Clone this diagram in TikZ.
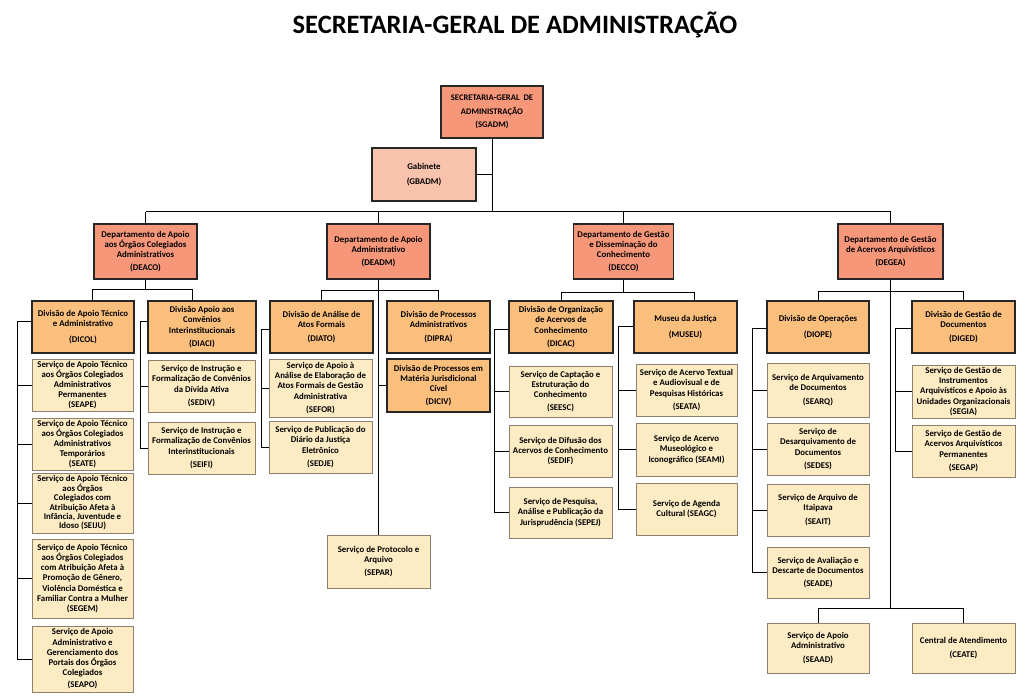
\documentclass[tikz,border=0pt]{standalone}
\usepackage{fontspec}
\setmainfont{Carlito}
\usepackage{xcolor}
\usepackage{tikz}
\usetikzlibrary{calc}

\definecolor{deptfill}{HTML}{F7977A}
\definecolor{gabfill}{HTML}{F9C2AC}
\definecolor{divfill}{HTML}{FABF7C}
\definecolor{servfill}{HTML}{FDEBC4}
\definecolor{servline}{HTML}{8E806C}

\begin{document}
\begin{tikzpicture}[
    x=1pt, y=-1pt,
    unit/.style={align=center, inner xsep=1pt, inner ysep=0.5pt,
                 font=\fontsize{8.8}{10.2}\selectfont\bfseries},
    dept/.style={unit, draw=black!85, line width=1.3pt, fill=deptfill},
    gab/.style={unit, draw=black!85, line width=1.3pt, fill=gabfill},
    divi/.style={unit, draw=black!85, line width=1.3pt, fill=divfill},
    serv/.style={unit, draw=servline, line width=0.9pt, fill=servfill},
    link/.style={line width=0.8pt, black}
]

\useasboundingbox (0,0) rectangle (1025,700);

% -------------------------------------------------
% Title
% -------------------------------------------------

\node[font=\fontsize{26.5}{30}\selectfont\bfseries] (title) at (515,25)
{SECRETARIA-GERAL DE ADMINISTRAÇÃO};

% -------------------------------------------------
% Top level
% -------------------------------------------------

\node[dept, minimum width=102, minimum height=52,
      font=\fontsize{8.6}{13.5}\selectfont\bfseries] (sgadm) at (492,112)
{SECRETARIA-GERAL~~DE\\ADMINISTRAÇÃO\\(SGADM)};

\node[gab, minimum width=104, minimum height=53,
      font=\fontsize{8.8}{15}\selectfont\bfseries] (gbadm) at (424,174.5)
{Gabinete\\(GBADM)};

% -------------------------------------------------
% Departments
% -------------------------------------------------

\node[dept, minimum width=103, minimum height=55] (deaco) at (145.5,251.5)
{Departamento de Apoio\\aos Órgãos Colegiados\\Administrativos\\[3pt](DEACO)};

\node[dept, minimum width=103, minimum height=55] (deadm) at (378.5,251.5)
{Departamento de Apoio\\Administrativo\\[3pt](DEADM)};

\node[dept, minimum width=100, minimum height=55] (decco) at (623.5,251.5)
{Departamento de Gestão\\e Disseminação do\\Conhecimento\\[3pt](DECCO)};

\node[dept, minimum width=105, minimum height=55] (degea) at (890.5,251.5)
{Departamento de Gestão\\de Acervos Arquivísticos\\[3pt](DEGEA)};

% -------------------------------------------------
% Divisions
% -------------------------------------------------

\node[divi, minimum width=102, minimum height=52] (dicol) at (83,327)
{Divisão de Apoio Técnico\\e Administrativo\\[5pt](DICOL)};

\node[divi, minimum width=108, minimum height=52] (diaci) at (202,327)
{Divisão Apoio aos\\Convênios\\Interinstitucionais\\[3pt](DIACI)};

\node[divi, minimum width=103, minimum height=52] (diato) at (321.5,327)
{Divisão de Análise de\\Atos Formais\\[4pt](DIATO)};

\node[divi, minimum width=103, minimum height=52] (dipra) at (438.5,327)
{Divisão de Processos\\Administrativos\\[4pt](DIPRA)};

\node[divi, minimum width=103, minimum height=53] (diciv) at (438.5,385.5)
{Divisão de Processos em\\Matéria Jurisdicional\\Cível\\[3pt](DICIV)};

\node[divi, minimum width=104, minimum height=52] (dicac) at (561,327)
{Divisão de Organização\\de Acervos de\\Conhecimento\\[3pt](DICAC)};

\node[divi, minimum width=103, minimum height=52] (museu) at (685.5,327)
{Museu da Justiça\\[5pt](MUSEU)};

\node[divi, minimum width=102, minimum height=52] (diope) at (818,327)
{Divisão de Operações\\[5pt](DIOPE)};

\node[divi, minimum width=103, minimum height=52] (diged) at (963.5,327)
{Divisão de Gestão de\\Documentos\\[4pt](DIGED)};

% -------------------------------------------------
% Services: DEACO
% -------------------------------------------------

\node[serv, minimum width=101, minimum height=52] (seape) at (82.5,385)
{Serviço de Apoio Técnico\\aos Órgãos Colegiados\\Administrativos\\Permanentes\\(SEAPE)};

\node[serv, minimum width=101, minimum height=52] (seate) at (82.5,444)
{Serviço de Apoio Técnico\\aos Órgãos Colegiados\\Administrativos\\Temporários\\(SEATE)};

\node[serv, minimum width=101, minimum height=60,
      font=\fontsize{8.8}{9.4}\selectfont\bfseries] (seiju) at (82.5,503)
{Serviço de Apoio Técnico\\aos Órgãos\\Colegiados com\\Atribuição Afeta à\\Infância, Juventude e\\Idoso (SEIJU)};

\node[serv, minimum width=101, minimum height=79] (segem) at (82.5,578.5)
{Serviço de Apoio Técnico\\aos Órgãos Colegiados\\com Atribuição Afeta à\\Promoção de Gênero,\\Violência Doméstica e\\Familiar Contra a Mulher\\(SEGEM)};

\node[serv, minimum width=101, minimum height=66] (seapo) at (82.5,659)
{Serviço de Apoio\\Administrativo e\\Gerenciamento dos\\Portais dos Órgãos\\Colegiados\\[2pt](SEAPO)};

\node[serv, minimum width=107, minimum height=52] (sediv) at (201.5,386)
{Serviço de Instrução e\\Formalização de Convênios\\da Dívida Ativa\\[3pt](SEDIV)};

\node[serv, minimum width=107, minimum height=52] (seifi) at (201.5,448)
{Serviço de Instrução e\\Formalização de Convênios\\Interinstitucionais\\[3pt](SEIFI)};

% -------------------------------------------------
% Services: DEADM
% -------------------------------------------------

\node[serv, minimum width=103, minimum height=58] (sefor) at (320.5,388)
{Serviço de Apoio à\\Análise de Elaboração de\\Atos Formais de Gestão\\Administrativa\\[3pt](SEFOR)};

\node[serv, minimum width=103, minimum height=52] (sedje) at (320.5,447)
{Serviço de Publicação do\\Diário da Justiça\\Eletrônico\\[3pt](SEDJE)};

\node[serv, minimum width=103, minimum height=53] (separ) at (378.5,561.5)
{Serviço de Protocolo e\\Arquivo\\[3pt](SEPAR)};

% -------------------------------------------------
% Services: DECCO
% -------------------------------------------------

\node[serv, minimum width=103, minimum height=51] (seesc) at (560.5,391.5)
{Serviço de Captação e\\Estruturação do\\Conhecimento\\[3pt](SEESC)};

\node[serv, minimum width=103, minimum height=52] (sedif) at (560.5,451)
{Serviço de Difusão dos\\Acervos de Conhecimento\\(SEDIF)};

\node[serv, minimum width=103, minimum height=51] (sepej) at (560.5,512.5)
{Serviço de Pesquisa,\\Análise e Publicação da\\Jurisprudência (SEPEJ)};

\node[serv, minimum width=101, minimum height=52] (seata) at (686.5,390)
{Serviço de Acervo Textual\\e Audiovisual e de\\Pesquisas Históricas\\[3pt](SEATA)};

\node[serv, minimum width=101, minimum height=53] (seami) at (686.5,449.5)
{Serviço de Acervo\\Museológico e\\Iconográfico (SEAMI)};

\node[serv, minimum width=101, minimum height=52] (seagc) at (686.5,509)
{Serviço de Agenda\\Cultural (SEAGC)};

% -------------------------------------------------
% Services: DEGEA
% -------------------------------------------------

\node[serv, minimum width=102, minimum height=54] (searq) at (818,390)
{Serviço de Arquivamento\\de Documentos\\[3pt](SEARQ)};

\node[serv, minimum width=102, minimum height=52] (sedes) at (818,449)
{Serviço de\\Desarquivamento de\\Documentos\\[3pt](SEDES)};

\node[serv, minimum width=102, minimum height=52] (seait) at (818,510)
{Serviço de Arquivo de\\Itaipava\\[3pt](SEAIT)};

\node[serv, minimum width=102, minimum height=51] (seade) at (818,572.5)
{Serviço de Avaliação e\\Descarte de Documentos\\[3pt](SEADE)};

\node[serv, minimum width=103, minimum height=53] (segia) at (963.5,391.5)
{Serviço de Gestão de\\Instrumentos\\Arquivísticos e Apoio às\\Unidades Organizacionais\\(SEGIA)};

\node[serv, minimum width=103, minimum height=52] (segap) at (963.5,451)
{Serviço de Gestão de\\Acervos Arquivísticos\\Permanentes\\[3pt](SEGAP)};

\node[serv, minimum width=102, minimum height=50] (seaad) at (818,648)
{Serviço de Apoio\\Administrativo\\[3pt](SEAAD)};

\node[serv, minimum width=103, minimum height=50] (ceate) at (963.5,648)
{Central de Atendimento\\[3pt](CEATE)};

% -------------------------------------------------
% Connectors: top level
% -------------------------------------------------

\draw[link] (sgadm.south) -- ++(0,73) coordinate (top);
\draw[link] (gbadm.east) -- (gbadm.east -| sgadm.south);
\draw[link] (top -| deaco.north) -- (top -| degea.north);
\foreach \d in {deaco,deadm,decco,degea}
    \draw[link] (top -| \d.north) -- (\d.north);

% -------------------------------------------------
% Connectors: departments to divisions
% -------------------------------------------------

\draw[link] (deaco.south) -- ++(0,10) -| ([xshift=9]dicol.north);
\draw[link] (deaco.south) -- ++(0,10) -| ([xshift=-10]diaci.north);

\draw[link] (deadm.south) -- ++(0,11) -| (diato.north);
\draw[link] (deadm.south) -- ++(0,11) -| (dipra.north);
\draw[link] (deadm.south) -- (separ.north);
\draw[link] (deadm.south |- diciv.west) -- (diciv.west);

\draw[link] (decco.south) -- ++(0,13) -| (dicac.north);
\draw[link] (decco.south) -- ++(0,13) -| ([xshift=9]museu.north);

\draw[link] (degea.south) -- ++(0,12) -| (diope.north);
\draw[link] (degea.south) -- ++(0,12) -| (diged.north);
\draw[link] (degea.south) -- ++(0,329) coordinate (low);
\draw[link] (seaad.north) |- (low) -| (ceate.north);

% -------------------------------------------------
% Connectors: divisions to services (side brackets)
% -------------------------------------------------

\coordinate (b1) at ($(dicol.west)+(-14,-6)$);
\draw[link] ([yshift=6]dicol.west) -- (b1) |- (seapo.west);
\foreach \s in {seape,seate,seiju,segem}
    \draw[link] (b1 |- \s.west) -- (\s.west);

\coordinate (b2) at ($(diaci.west)+(-7,-6)$);
\draw[link] ([yshift=6]diaci.west) -- (b2) |- (seifi.west);
\draw[link] (b2 |- sediv.west) -- (sediv.west);

\coordinate (b3) at ($(diato.west)+(-8,2)$);
\draw[link] ([yshift=-2]diato.west) -- (b3) |- (sedje.west);
\draw[link] (b3 |- sefor.west) -- (sefor.west);

\coordinate (b4) at ($(dicac.west)+(-14,2)$);
\draw[link] ([yshift=-2]dicac.west) -- (b4) |- (sepej.west);
\foreach \s in {seesc,sedif}
    \draw[link] (b4 |- \s.west) -- (\s.west);

\coordinate (b5) at ($(museu.west)+(-15,-1)$);
\draw[link] ([yshift=1]museu.west) -- (b5) |- (seagc.west);
\foreach \s in {seata,seami}
    \draw[link] (b5 |- \s.west) -- (\s.west);

\coordinate (b6) at ($(diope.west)+(-14,1)$);
\draw[link] ([yshift=-1]diope.west) -- (b6) |- (seade.west);
\foreach \s in {searq,sedes,seait}
    \draw[link] (b6 |- \s.west) -- (\s.west);

\coordinate (b7) at ($(diged.west)+(-16,1)$);
\draw[link] ([yshift=-1]diged.west) -- (b7) |- (segap.west);
\draw[link] (b7 |- segia.west) -- (segia.west);

\end{tikzpicture}
\end{document}
